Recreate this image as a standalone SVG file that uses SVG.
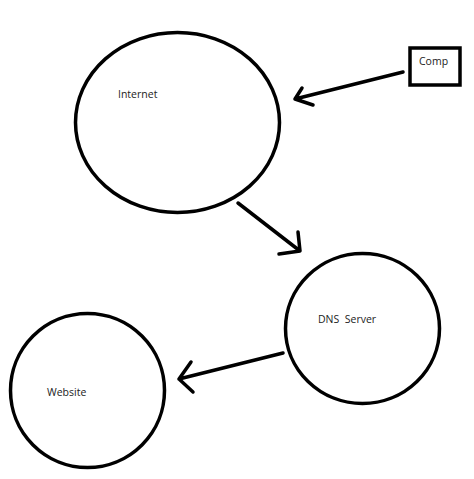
<svg xmlns="http://www.w3.org/2000/svg" width="474" height="479" viewBox="0 0 474 479">
<style>
.node{fill:none;stroke:#000;stroke-width:3.5}
.lbl{font-family:"Open Sans","Noto Sans","Liberation Sans",sans-serif;font-size:10.5px;fill:#222}
.conn{fill:none;stroke:#000;stroke-width:3.5;stroke-linecap:round;stroke-linejoin:round}
</style>
<rect width="474" height="479" fill="#fff"/>
<g id="internet">
<ellipse class="node" cx="177.5" cy="122.5" rx="102" ry="90"/>
<text class="lbl" x="118" y="98">Internet</text>
</g>
<g id="comp">
<rect x="410" y="48" width="50" height="37" fill="none" stroke="#000" stroke-width="3.5"/>
<text class="lbl" x="419" y="65">Comp</text>
</g>
<g id="dns">
<ellipse class="node" cx="362.5" cy="328.5" rx="77" ry="75"/>
<text class="lbl" x="318" y="323" xml:space="preserve">DNS  Server</text>
</g>
<g id="website">
<ellipse class="node" cx="87.5" cy="390.5" rx="77" ry="77"/>
<text class="lbl" x="47" y="396">Website</text>
</g>
<g id="connectors">
<path class="conn" d="M403 72 L295 99 M302 88 L295 99 L313 105"/>
<path class="conn" d="M238 203 L300 251 M298 232 L300 251 L279 254"/>
<path class="conn" d="M283 353 L179 379 M191 362 L179 379 L193 392"/>
</g>
</svg>
